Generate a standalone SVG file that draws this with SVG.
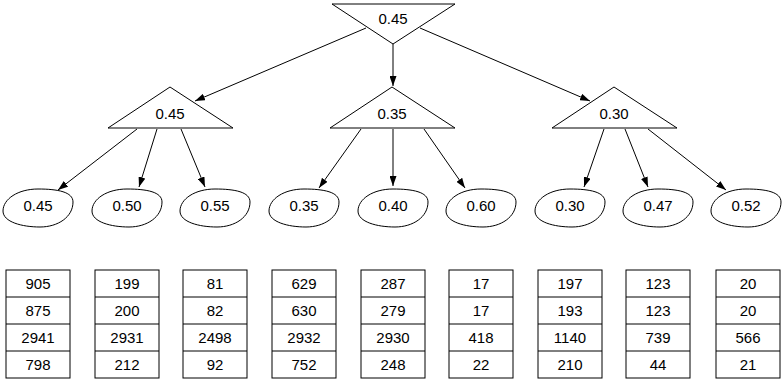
<svg xmlns="http://www.w3.org/2000/svg" width="784" height="381" viewBox="0 0 784 381">
<style>
.s{fill:#fff;stroke:#000;stroke-width:1}
.t{font-family:"Liberation Sans",Arial,sans-serif;font-size:15px;fill:#000;text-anchor:middle}
.e{stroke:#000;stroke-width:1;fill:none;marker-end:url(#a)}
.c{fill:none;stroke:#000;stroke-width:1}
</style>
<defs>
<marker id="a" viewBox="0 0 10 7" refX="10" refY="3.5" markerWidth="10" markerHeight="7" markerUnits="userSpaceOnUse" orient="auto">
<path d="M0,0 L10,3.5 L0,7 Z" fill="#000"/>
</marker>
<path id="egg" d="M0,-19 C20,-19 35,-16 35,-6 C35,9 20,19 2,19 C-16,19 -35,14 -35,3 C-35,-9 -20,-19 0,-19 Z"/>
<g id="tbl">
<rect x="-32" y="0" width="64" height="108" class="s"/>
<line x1="-32" y1="27" x2="32" y2="27" class="c"/>
<line x1="-32" y1="54" x2="32" y2="54" class="c"/>
<line x1="-32" y1="81" x2="32" y2="81" class="c"/>
</g>
</defs>
<rect width="784" height="381" fill="#fff"/>
<g id="edges">
<line x1="366" y1="28" x2="195" y2="101" class="e"/>
<line x1="393" y1="44" x2="393" y2="86" class="e"/>
<line x1="420" y1="28" x2="590" y2="101" class="e"/>
<line x1="137" y1="129" x2="58" y2="190" class="e"/>
<line x1="157" y1="129" x2="139" y2="187" class="e"/>
<line x1="181" y1="129" x2="205" y2="187" class="e"/>
<line x1="361" y1="129" x2="319" y2="188" class="e"/>
<line x1="393" y1="129" x2="393" y2="186" class="e"/>
<line x1="424" y1="129" x2="465" y2="188" class="e"/>
<line x1="604" y1="129" x2="584" y2="187" class="e"/>
<line x1="625" y1="129" x2="648" y2="187" class="e"/>
<line x1="648" y1="129" x2="726" y2="190" class="e"/>
</g>
<g id="root"><polygon points="332,4 455,4 393,44" class="s"/><text x="393" y="24" class="t">0.45</text></g>
<g id="m1"><polygon points="170,87 233,128 108,128" class="s"/><text x="170" y="119" class="t">0.45</text></g>
<g id="m2"><polygon points="392,87 455,128 330,128" class="s"/><text x="392" y="119" class="t">0.35</text></g>
<g id="m3"><polygon points="614,87 677,128 552,128" class="s"/><text x="614" y="119" class="t">0.30</text></g>
<g id="l1"><use href="#egg" x="38" y="208" class="s"/><text x="38" y="211" class="t">0.45</text></g>
<g id="l2"><use href="#egg" x="127" y="208" class="s"/><text x="127" y="211" class="t">0.50</text></g>
<g id="l3"><use href="#egg" x="215" y="208" class="s"/><text x="215" y="211" class="t">0.55</text></g>
<g id="l4"><use href="#egg" x="304" y="208" class="s"/><text x="304" y="211" class="t">0.35</text></g>
<g id="l5"><use href="#egg" x="393" y="208" class="s"/><text x="393" y="211" class="t">0.40</text></g>
<g id="l6"><use href="#egg" x="481" y="208" class="s"/><text x="481" y="211" class="t">0.60</text></g>
<g id="l7"><use href="#egg" x="570" y="208" class="s"/><text x="570" y="211" class="t">0.30</text></g>
<g id="l8"><use href="#egg" x="658" y="208" class="s"/><text x="658" y="211" class="t">0.47</text></g>
<g id="l9"><use href="#egg" x="746" y="208" class="s"/><text x="746" y="211" class="t">0.52</text></g>
<g id="t1"><use href="#tbl" x="38" y="270"/><text x="38" y="289" class="t">905</text><text x="38" y="316" class="t">875</text><text x="38" y="343" class="t">2941</text><text x="38" y="370" class="t">798</text></g>
<g id="t2"><use href="#tbl" x="127" y="270"/><text x="127" y="289" class="t">199</text><text x="127" y="316" class="t">200</text><text x="127" y="343" class="t">2931</text><text x="127" y="370" class="t">212</text></g>
<g id="t3"><use href="#tbl" x="215" y="270"/><text x="215" y="289" class="t">81</text><text x="215" y="316" class="t">82</text><text x="215" y="343" class="t">2498</text><text x="215" y="370" class="t">92</text></g>
<g id="t4"><use href="#tbl" x="304" y="270"/><text x="304" y="289" class="t">629</text><text x="304" y="316" class="t">630</text><text x="304" y="343" class="t">2932</text><text x="304" y="370" class="t">752</text></g>
<g id="t5"><use href="#tbl" x="393" y="270"/><text x="393" y="289" class="t">287</text><text x="393" y="316" class="t">279</text><text x="393" y="343" class="t">2930</text><text x="393" y="370" class="t">248</text></g>
<g id="t6"><use href="#tbl" x="481" y="270"/><text x="481" y="289" class="t">17</text><text x="481" y="316" class="t">17</text><text x="481" y="343" class="t">418</text><text x="481" y="370" class="t">22</text></g>
<g id="t7"><use href="#tbl" x="570" y="270"/><text x="570" y="289" class="t">197</text><text x="570" y="316" class="t">193</text><text x="570" y="343" class="t">1140</text><text x="570" y="370" class="t">210</text></g>
<g id="t8"><use href="#tbl" x="658" y="270"/><text x="658" y="289" class="t">123</text><text x="658" y="316" class="t">123</text><text x="658" y="343" class="t">739</text><text x="658" y="370" class="t">44</text></g>
<g id="t9"><use href="#tbl" x="748" y="270"/><text x="748" y="289" class="t">20</text><text x="748" y="316" class="t">20</text><text x="748" y="343" class="t">566</text><text x="748" y="370" class="t">21</text></g>
</svg>
